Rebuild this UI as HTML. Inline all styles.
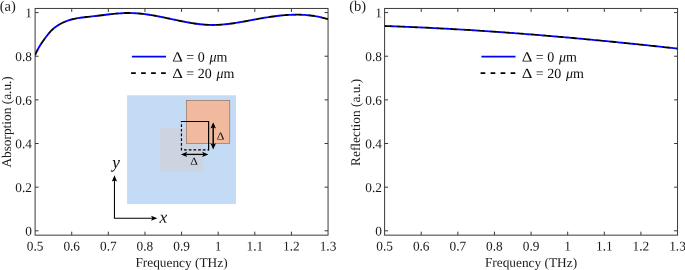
<!DOCTYPE html>
<html><head><meta charset="utf-8"><title>Figure</title>
<style>
html,body{margin:0;padding:0;background:#fff;}
svg{display:block}
svg text{font-family:"Liberation Serif","DejaVu Serif",serif;font-size:13.33px;fill:#1a1a1a;text-rendering:geometricPrecision}
</style></head><body>
<svg width="685" height="270" viewBox="0 0 685 270">
<rect width="685" height="270" fill="#fff"/>
<g transform="translate(0,0)">
<rect x="35.1" y="8.45" width="292.95" height="226.70000000000002" fill="#fff" stroke="#3a3a3a" stroke-width="1"/>
<path d="M71.72,235.15v-3.5 M71.72,8.45v3.5 M108.34,235.15v-3.5 M108.34,8.45v3.5 M144.96,235.15v-3.5 M144.96,8.45v3.5 M181.57,235.15v-3.5 M181.57,8.45v3.5 M218.19,235.15v-3.5 M218.19,8.45v3.5 M254.81,235.15v-3.5 M254.81,8.45v3.5 M291.43,235.15v-3.5 M291.43,8.45v3.5 M35.1,230.80h3.5 M328.05,230.80h-3.5 M35.1,187.16h3.5 M328.05,187.16h-3.5 M35.1,143.51h3.5 M328.05,143.51h-3.5 M35.1,99.87h3.5 M328.05,99.87h-3.5 M35.1,56.22h3.5 M328.05,56.22h-3.5 M35.1,12.58h3.5 M328.05,12.58h-3.5" stroke="#3a3a3a" stroke-width="1" fill="none"/>
<text transform="rotate(0.05 35.10 250.6)" x="35.10" y="250.6" text-anchor="middle">0.5</text>
<text transform="rotate(0.05 71.72 250.6)" x="71.72" y="250.6" text-anchor="middle">0.6</text>
<text transform="rotate(0.05 108.34 250.6)" x="108.34" y="250.6" text-anchor="middle">0.7</text>
<text transform="rotate(0.05 144.96 250.6)" x="144.96" y="250.6" text-anchor="middle">0.8</text>
<text transform="rotate(0.05 181.57 250.6)" x="181.57" y="250.6" text-anchor="middle">0.9</text>
<text transform="rotate(0.05 218.19 250.6)" x="218.19" y="250.6" text-anchor="middle">1</text>
<text transform="rotate(0.05 254.81 250.6)" x="254.81" y="250.6" text-anchor="middle">1.1</text>
<text transform="rotate(0.05 291.43 250.6)" x="291.43" y="250.6" text-anchor="middle">1.2</text>
<text transform="rotate(0.05 328.05 250.6)" x="328.05" y="250.6" text-anchor="middle">1.3</text>
<text transform="rotate(0.05 32.0 235.60)" x="32.0" y="235.60" text-anchor="end">0</text>
<text transform="rotate(0.05 32.0 191.96)" x="32.0" y="191.96" text-anchor="end">0.2</text>
<text transform="rotate(0.05 32.0 148.31)" x="32.0" y="148.31" text-anchor="end">0.4</text>
<text transform="rotate(0.05 32.0 104.67)" x="32.0" y="104.67" text-anchor="end">0.6</text>
<text transform="rotate(0.05 32.0 61.02)" x="32.0" y="61.02" text-anchor="end">0.8</text>
<text transform="rotate(0.05 32.0 17.38)" x="32.0" y="17.38" text-anchor="end">1</text>
<text transform="rotate(0.05 181.5 266.9)" x="181.5" y="266.9" text-anchor="middle">Frequency (THz)</text>
<text transform="translate(11.0,121.9) rotate(-90)" text-anchor="middle">Absorption (a.u.)</text>
<text transform="rotate(0.05 -0.3 10.7)" x="-0.3" y="10.7" style="font-size:14.5px">(a)</text>

<rect x="127.1" y="95.3" width="108.9" height="108.8" fill="#c3dbf4"/>
<rect x="159.9" y="128" width="43.3" height="43.4" fill="#ccd3e1"/>
<rect x="186.4" y="100.35" width="43.4" height="43.2" fill="#f1b99e" stroke="#7d5f4e" stroke-width="0.55"/>
<path d="M180.9,121.5H208.6V150.4" stroke="#000" stroke-width="1.2" fill="none"/>
<path d="M181.45,121.5V149.8H208.6" stroke="#000" stroke-width="1.2" stroke-dasharray="2.7 2" stroke-dashoffset="2" fill="none"/>
<path d="M213.2,126V146" stroke="#000" stroke-width="1.45" fill="none"/>
<path d="M213.2,122.2l2.75,6.4l-2.75,-1.4l-2.75,1.4z M213.2,149.6l2.75,-6.4l-2.75,1.4l-2.75,-1.4z" fill="#000"/>
<path d="M184,154.4H205" stroke="#000" stroke-width="1.3" fill="none"/>
<path d="M180.9,154.4l6.3,-2.7l-1.4,2.7l1.4,2.7z M208.4,154.4l-6.3,-2.7l1.4,2.7l-1.4,2.7z" fill="#000"/>
<text transform="translate(220.6,139.6) scale(1.12,1) rotate(0.05)" text-anchor="middle" style="font-size:10.6px;fill:#111">Δ</text>
<text transform="translate(194.05,164.8) scale(1.12,1) rotate(0.05)" text-anchor="middle" style="font-size:10.6px;fill:#111">Δ</text>
<path d="M114.45,178V218.25H154" stroke="#000" stroke-width="1.05" fill="none"/>
<path d="M114.45,175.3l2.6,6.3l-2.6,-1.2l-2.6,1.2z M157.4,218.25l-6.3,-2.6l1.2,2.6l-1.2,2.6z" fill="#000"/>
<text transform="rotate(0.05 112.2 167.9)" x="112.2" y="167.9" font-style="italic" style="font-size:17.2px;fill:#111">y</text>
<text transform="rotate(0.05 159.6 222.7)" x="159.6" y="222.7" font-style="italic" style="font-size:17.4px;fill:#111">x</text>

<clipPath id="ca"><rect x="35.1" y="8.45" width="292.95" height="226.70000000000002"/></clipPath>
<g clip-path="url(#ca)"><path d="M35.05,55.20 L37.02,50.88 L38.98,47.23 L40.95,44.04 L42.91,41.16 L44.88,38.44 L46.85,35.81 L48.81,33.35 L50.78,31.17 L52.74,29.26 L54.71,27.60 L56.68,26.15 L58.64,24.88 L60.61,23.75 L62.58,22.74 L64.54,21.84 L66.51,21.06 L68.47,20.36 L70.44,19.76 L72.41,19.23 L74.37,18.78 L76.34,18.38 L78.30,18.04 L80.27,17.75 L82.24,17.49 L84.20,17.26 L86.17,17.04 L88.13,16.84 L90.10,16.63 L92.07,16.42 L94.03,16.20 L96.00,15.97 L97.97,15.73 L99.93,15.48 L101.90,15.23 L103.86,14.98 L105.83,14.74 L107.80,14.50 L109.76,14.27 L111.73,14.05 L113.69,13.84 L115.66,13.65 L117.63,13.48 L119.59,13.33 L121.56,13.21 L123.52,13.11 L125.49,13.04 L127.46,13.01 L129.42,13.01 L131.39,13.05 L133.36,13.12 L135.32,13.23 L137.29,13.37 L139.25,13.53 L141.22,13.73 L143.19,13.95 L145.15,14.20 L147.12,14.47 L149.08,14.76 L151.05,15.07 L153.02,15.40 L154.98,15.74 L156.95,16.10 L158.91,16.48 L160.88,16.86 L162.85,17.26 L164.81,17.66 L166.78,18.08 L168.75,18.49 L170.71,18.91 L172.68,19.33 L174.64,19.75 L176.61,20.17 L178.58,20.58 L180.54,20.98 L182.51,21.38 L184.47,21.76 L186.44,22.14 L188.41,22.50 L190.37,22.84 L192.34,23.16 L194.30,23.47 L196.27,23.75 L198.24,24.01 L200.20,24.24 L202.17,24.44 L204.14,24.62 L206.10,24.76 L208.07,24.87 L210.03,24.94 L212.00,24.98 L213.97,24.97 L215.93,24.93 L217.90,24.86 L219.86,24.75 L221.83,24.61 L223.80,24.44 L225.76,24.24 L227.73,24.02 L229.69,23.78 L231.66,23.51 L233.63,23.22 L235.59,22.92 L237.56,22.60 L239.53,22.27 L241.49,21.93 L243.46,21.58 L245.42,21.22 L247.39,20.86 L249.36,20.49 L251.32,20.12 L253.29,19.76 L255.25,19.39 L257.22,19.04 L259.19,18.68 L261.15,18.34 L263.12,18.00 L265.08,17.67 L267.05,17.36 L269.02,17.05 L270.98,16.76 L272.95,16.48 L274.92,16.22 L276.88,15.98 L278.85,15.75 L280.81,15.54 L282.78,15.35 L284.75,15.18 L286.71,15.04 L288.68,14.92 L290.64,14.82 L292.61,14.75 L294.58,14.71 L296.54,14.69 L298.51,14.70 L300.47,14.75 L302.44,14.82 L304.41,14.93 L306.37,15.07 L308.34,15.25 L310.31,15.46 L312.27,15.71 L314.24,16.00 L316.20,16.33 L318.17,16.70 L320.14,17.11 L322.10,17.57 L324.07,18.07 L326.03,18.61 L328.00,19.20" stroke="#0000ff" stroke-width="1.85" stroke-dasharray="7.3 6" stroke-dashoffset="-5.70" fill="none"/>
<path d="M35.05,55.20 L37.02,50.88 L38.98,47.23 L40.95,44.04 L42.91,41.16 L44.88,38.44 L46.85,35.81 L48.81,33.35 L50.78,31.17 L52.74,29.26 L54.71,27.60 L56.68,26.15 L58.64,24.88 L60.61,23.75 L62.58,22.74 L64.54,21.84 L66.51,21.06 L68.47,20.36 L70.44,19.76 L72.41,19.23 L74.37,18.78 L76.34,18.38 L78.30,18.04 L80.27,17.75 L82.24,17.49 L84.20,17.26 L86.17,17.04 L88.13,16.84 L90.10,16.63 L92.07,16.42 L94.03,16.20 L96.00,15.97 L97.97,15.73 L99.93,15.48 L101.90,15.23 L103.86,14.98 L105.83,14.74 L107.80,14.50 L109.76,14.27 L111.73,14.05 L113.69,13.84 L115.66,13.65 L117.63,13.48 L119.59,13.33 L121.56,13.21 L123.52,13.11 L125.49,13.04 L127.46,13.01 L129.42,13.01 L131.39,13.05 L133.36,13.12 L135.32,13.23 L137.29,13.37 L139.25,13.53 L141.22,13.73 L143.19,13.95 L145.15,14.20 L147.12,14.47 L149.08,14.76 L151.05,15.07 L153.02,15.40 L154.98,15.74 L156.95,16.10 L158.91,16.48 L160.88,16.86 L162.85,17.26 L164.81,17.66 L166.78,18.08 L168.75,18.49 L170.71,18.91 L172.68,19.33 L174.64,19.75 L176.61,20.17 L178.58,20.58 L180.54,20.98 L182.51,21.38 L184.47,21.76 L186.44,22.14 L188.41,22.50 L190.37,22.84 L192.34,23.16 L194.30,23.47 L196.27,23.75 L198.24,24.01 L200.20,24.24 L202.17,24.44 L204.14,24.62 L206.10,24.76 L208.07,24.87 L210.03,24.94 L212.00,24.98 L213.97,24.97 L215.93,24.93 L217.90,24.86 L219.86,24.75 L221.83,24.61 L223.80,24.44 L225.76,24.24 L227.73,24.02 L229.69,23.78 L231.66,23.51 L233.63,23.22 L235.59,22.92 L237.56,22.60 L239.53,22.27 L241.49,21.93 L243.46,21.58 L245.42,21.22 L247.39,20.86 L249.36,20.49 L251.32,20.12 L253.29,19.76 L255.25,19.39 L257.22,19.04 L259.19,18.68 L261.15,18.34 L263.12,18.00 L265.08,17.67 L267.05,17.36 L269.02,17.05 L270.98,16.76 L272.95,16.48 L274.92,16.22 L276.88,15.98 L278.85,15.75 L280.81,15.54 L282.78,15.35 L284.75,15.18 L286.71,15.04 L288.68,14.92 L290.64,14.82 L292.61,14.75 L294.58,14.71 L296.54,14.69 L298.51,14.70 L300.47,14.75 L302.44,14.82 L304.41,14.93 L306.37,15.07 L308.34,15.25 L310.31,15.46 L312.27,15.71 L314.24,16.00 L316.20,16.33 L318.17,16.70 L320.14,17.11 L322.10,17.57 L324.07,18.07 L326.03,18.61 L328.00,19.20" stroke="#000" stroke-width="1.85" stroke-dasharray="6.6 6.7" stroke-dashoffset="0.6" fill="none"/></g>
<path d="M131.9,56.65H166" stroke="#0000ff" stroke-width="1.7" fill="none"/>
<path d="M131.1,73.15H166" stroke="#000" stroke-width="1.65" stroke-dasharray="4.7 5.3" fill="none"/>
<text transform="translate(172.2,61.6) scale(1.17,1) rotate(0.05)" style="font-size:14.2px;fill:#0d0d0d">Δ</text>
<text transform="rotate(0.05 186.3 61.6)" x="186.3" y="61.6" style="font-size:14px;fill:#0d0d0d">= 0 <tspan font-style="italic" dx="1.2">μ</tspan>m</text>
<text transform="translate(172.2,77.9) scale(1.17,1) rotate(0.05)" style="font-size:14.2px;fill:#0d0d0d">Δ</text>
<text transform="rotate(0.05 186.3 77.9)" x="186.3" y="77.9" style="font-size:14px;fill:#0d0d0d">= 20 <tspan font-style="italic" dx="1.2">μ</tspan>m</text>
</g>
<g transform="translate(349.5,0)">
<rect x="35.1" y="8.45" width="292.95" height="226.70000000000002" fill="#fff" stroke="#3a3a3a" stroke-width="1"/>
<path d="M71.72,235.15v-3.5 M71.72,8.45v3.5 M108.34,235.15v-3.5 M108.34,8.45v3.5 M144.96,235.15v-3.5 M144.96,8.45v3.5 M181.57,235.15v-3.5 M181.57,8.45v3.5 M218.19,235.15v-3.5 M218.19,8.45v3.5 M254.81,235.15v-3.5 M254.81,8.45v3.5 M291.43,235.15v-3.5 M291.43,8.45v3.5 M35.1,230.80h3.5 M328.05,230.80h-3.5 M35.1,187.16h3.5 M328.05,187.16h-3.5 M35.1,143.51h3.5 M328.05,143.51h-3.5 M35.1,99.87h3.5 M328.05,99.87h-3.5 M35.1,56.22h3.5 M328.05,56.22h-3.5 M35.1,12.58h3.5 M328.05,12.58h-3.5" stroke="#3a3a3a" stroke-width="1" fill="none"/>
<text transform="rotate(0.05 35.10 250.6)" x="35.10" y="250.6" text-anchor="middle">0.5</text>
<text transform="rotate(0.05 71.72 250.6)" x="71.72" y="250.6" text-anchor="middle">0.6</text>
<text transform="rotate(0.05 108.34 250.6)" x="108.34" y="250.6" text-anchor="middle">0.7</text>
<text transform="rotate(0.05 144.96 250.6)" x="144.96" y="250.6" text-anchor="middle">0.8</text>
<text transform="rotate(0.05 181.57 250.6)" x="181.57" y="250.6" text-anchor="middle">0.9</text>
<text transform="rotate(0.05 218.19 250.6)" x="218.19" y="250.6" text-anchor="middle">1</text>
<text transform="rotate(0.05 254.81 250.6)" x="254.81" y="250.6" text-anchor="middle">1.1</text>
<text transform="rotate(0.05 291.43 250.6)" x="291.43" y="250.6" text-anchor="middle">1.2</text>
<text transform="rotate(0.05 328.05 250.6)" x="328.05" y="250.6" text-anchor="middle">1.3</text>
<text transform="rotate(0.05 32.4 235.60)" x="32.4" y="235.60" text-anchor="end">0</text>
<text transform="rotate(0.05 32.4 191.96)" x="32.4" y="191.96" text-anchor="end">0.2</text>
<text transform="rotate(0.05 32.4 148.31)" x="32.4" y="148.31" text-anchor="end">0.4</text>
<text transform="rotate(0.05 32.4 104.67)" x="32.4" y="104.67" text-anchor="end">0.6</text>
<text transform="rotate(0.05 32.4 61.02)" x="32.4" y="61.02" text-anchor="end">0.8</text>
<text transform="rotate(0.05 32.4 17.38)" x="32.4" y="17.38" text-anchor="end">1</text>
<text transform="rotate(0.05 181.5 266.9)" x="181.5" y="266.9" text-anchor="middle">Frequency (THz)</text>
<text transform="translate(10.3,122.4) rotate(-90)" text-anchor="middle">Reflection (a.u.)</text>
<text transform="rotate(0.05 -0.3 10.7)" x="-0.3" y="10.7" style="font-size:14.5px">(b)</text>
<clipPath id="cb"><rect x="35.1" y="8.45" width="292.95" height="226.70000000000002"/></clipPath>
<g clip-path="url(#cb)"><path d="M35.00,26.00 L36.97,26.07 L38.93,26.13 L40.90,26.20 L42.87,26.27 L44.83,26.34 L46.80,26.42 L48.77,26.49 L50.73,26.56 L52.70,26.64 L54.66,26.72 L56.63,26.80 L58.60,26.88 L60.56,26.96 L62.53,27.05 L64.50,27.13 L66.46,27.22 L68.43,27.31 L70.40,27.39 L72.36,27.48 L74.33,27.58 L76.30,27.67 L78.26,27.76 L80.23,27.86 L82.19,27.96 L84.16,28.06 L86.13,28.16 L88.09,28.26 L90.06,28.36 L92.03,28.46 L93.99,28.57 L95.96,28.67 L97.93,28.78 L99.89,28.89 L101.86,29.00 L103.83,29.11 L105.79,29.22 L107.76,29.34 L109.72,29.45 L111.69,29.57 L113.66,29.68 L115.62,29.80 L117.59,29.92 L119.56,30.04 L121.52,30.17 L123.49,30.29 L125.46,30.41 L127.42,30.54 L129.39,30.67 L131.36,30.80 L133.32,30.92 L135.29,31.06 L137.26,31.19 L139.22,31.32 L141.19,31.45 L143.15,31.59 L145.12,31.72 L147.09,31.86 L149.05,32.00 L151.02,32.14 L152.99,32.28 L154.95,32.42 L156.92,32.57 L158.89,32.71 L160.85,32.86 L162.82,33.00 L164.79,33.15 L166.75,33.30 L168.72,33.45 L170.68,33.60 L172.65,33.75 L174.62,33.90 L176.58,34.05 L178.55,34.21 L180.52,34.37 L182.48,34.52 L184.45,34.68 L186.42,34.84 L188.38,35.00 L190.35,35.16 L192.32,35.32 L194.28,35.48 L196.25,35.65 L198.21,35.81 L200.18,35.98 L202.15,36.15 L204.11,36.31 L206.08,36.48 L208.05,36.65 L210.01,36.82 L211.98,36.99 L213.95,37.17 L215.91,37.34 L217.88,37.52 L219.85,37.69 L221.81,37.87 L223.78,38.04 L225.74,38.22 L227.71,38.40 L229.68,38.58 L231.64,38.76 L233.61,38.94 L235.58,39.13 L237.54,39.31 L239.51,39.49 L241.48,39.68 L243.44,39.87 L245.41,40.05 L247.38,40.24 L249.34,40.43 L251.31,40.62 L253.28,40.81 L255.24,41.00 L257.21,41.19 L259.17,41.38 L261.14,41.58 L263.11,41.77 L265.07,41.97 L267.04,42.16 L269.01,42.36 L270.97,42.56 L272.94,42.76 L274.91,42.96 L276.87,43.16 L278.84,43.36 L280.81,43.56 L282.77,43.76 L284.74,43.96 L286.70,44.17 L288.67,44.37 L290.64,44.58 L292.60,44.78 L294.57,44.99 L296.54,45.20 L298.50,45.40 L300.47,45.61 L302.44,45.82 L304.40,46.03 L306.37,46.24 L308.34,46.45 L310.30,46.67 L312.27,46.88 L314.23,47.09 L316.20,47.31 L318.17,47.52 L320.13,47.74 L322.10,47.95 L324.07,48.17 L326.03,48.39 L328.00,48.60" stroke="#0000ff" stroke-width="1.85" stroke-dasharray="7.3 6" stroke-dashoffset="-6.30" fill="none"/>
<path d="M35.00,26.00 L36.97,26.07 L38.93,26.13 L40.90,26.20 L42.87,26.27 L44.83,26.34 L46.80,26.42 L48.77,26.49 L50.73,26.56 L52.70,26.64 L54.66,26.72 L56.63,26.80 L58.60,26.88 L60.56,26.96 L62.53,27.05 L64.50,27.13 L66.46,27.22 L68.43,27.31 L70.40,27.39 L72.36,27.48 L74.33,27.58 L76.30,27.67 L78.26,27.76 L80.23,27.86 L82.19,27.96 L84.16,28.06 L86.13,28.16 L88.09,28.26 L90.06,28.36 L92.03,28.46 L93.99,28.57 L95.96,28.67 L97.93,28.78 L99.89,28.89 L101.86,29.00 L103.83,29.11 L105.79,29.22 L107.76,29.34 L109.72,29.45 L111.69,29.57 L113.66,29.68 L115.62,29.80 L117.59,29.92 L119.56,30.04 L121.52,30.17 L123.49,30.29 L125.46,30.41 L127.42,30.54 L129.39,30.67 L131.36,30.80 L133.32,30.92 L135.29,31.06 L137.26,31.19 L139.22,31.32 L141.19,31.45 L143.15,31.59 L145.12,31.72 L147.09,31.86 L149.05,32.00 L151.02,32.14 L152.99,32.28 L154.95,32.42 L156.92,32.57 L158.89,32.71 L160.85,32.86 L162.82,33.00 L164.79,33.15 L166.75,33.30 L168.72,33.45 L170.68,33.60 L172.65,33.75 L174.62,33.90 L176.58,34.05 L178.55,34.21 L180.52,34.37 L182.48,34.52 L184.45,34.68 L186.42,34.84 L188.38,35.00 L190.35,35.16 L192.32,35.32 L194.28,35.48 L196.25,35.65 L198.21,35.81 L200.18,35.98 L202.15,36.15 L204.11,36.31 L206.08,36.48 L208.05,36.65 L210.01,36.82 L211.98,36.99 L213.95,37.17 L215.91,37.34 L217.88,37.52 L219.85,37.69 L221.81,37.87 L223.78,38.04 L225.74,38.22 L227.71,38.40 L229.68,38.58 L231.64,38.76 L233.61,38.94 L235.58,39.13 L237.54,39.31 L239.51,39.49 L241.48,39.68 L243.44,39.87 L245.41,40.05 L247.38,40.24 L249.34,40.43 L251.31,40.62 L253.28,40.81 L255.24,41.00 L257.21,41.19 L259.17,41.38 L261.14,41.58 L263.11,41.77 L265.07,41.97 L267.04,42.16 L269.01,42.36 L270.97,42.56 L272.94,42.76 L274.91,42.96 L276.87,43.16 L278.84,43.36 L280.81,43.56 L282.77,43.76 L284.74,43.96 L286.70,44.17 L288.67,44.37 L290.64,44.58 L292.60,44.78 L294.57,44.99 L296.54,45.20 L298.50,45.40 L300.47,45.61 L302.44,45.82 L304.40,46.03 L306.37,46.24 L308.34,46.45 L310.30,46.67 L312.27,46.88 L314.23,47.09 L316.20,47.31 L318.17,47.52 L320.13,47.74 L322.10,47.95 L324.07,48.17 L326.03,48.39 L328.00,48.60" stroke="#000" stroke-width="1.85" stroke-dasharray="6.6 6.7" stroke-dashoffset="0.0" fill="none"/></g>
<path d="M131.9,56.65H166" stroke="#0000ff" stroke-width="1.7" fill="none"/>
<path d="M131.1,73.15H166" stroke="#000" stroke-width="1.65" stroke-dasharray="4.7 5.3" fill="none"/>
<text transform="translate(172.2,61.6) scale(1.17,1) rotate(0.05)" style="font-size:14.2px;fill:#0d0d0d">Δ</text>
<text transform="rotate(0.05 186.3 61.6)" x="186.3" y="61.6" style="font-size:14px;fill:#0d0d0d">= 0 <tspan font-style="italic" dx="1.2">μ</tspan>m</text>
<text transform="translate(172.2,77.9) scale(1.17,1) rotate(0.05)" style="font-size:14.2px;fill:#0d0d0d">Δ</text>
<text transform="rotate(0.05 186.3 77.9)" x="186.3" y="77.9" style="font-size:14px;fill:#0d0d0d">= 20 <tspan font-style="italic" dx="1.2">μ</tspan>m</text>
</g>
</svg>
</body></html>
